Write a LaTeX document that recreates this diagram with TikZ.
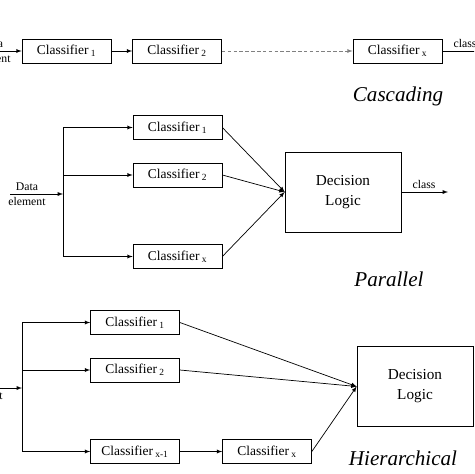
\documentclass[tikz,border=0pt]{standalone}
\usepackage{fontspec}
\setmainfont{Liberation Serif}
\usepackage{tikz}

\begin{document}
\begin{tikzpicture}[x=0.03cm, y=-0.03cm,
    clf/.style={draw, line width=0.6pt, minimum width=2.67cm, minimum height=0.72cm, inner sep=1pt, font=\fontsize{11.5}{13}\selectfont},
    dlogic/.style={draw, line width=0.6pt, minimum width=3.48cm, minimum height=2.4cm, align=center, font=\fontsize{13}{17}\selectfont},
    lbl/.style={inner sep=0pt, align=center, font=\fontsize{10}{13}\selectfont},
    kind/.style={inner sep=0pt, font=\fontsize{18}{20}\selectfont\itshape},
    arr/.style={-latex, line width=0.6pt},
    ln/.style={line width=0.6pt}]
    \useasboundingbox (0,0) rectangle (474,474);
    \clip (0,0) rectangle (474,474);
    % cascading
    \coordinate (cin) at (-30,51);
    \node at (-8,51) [lbl] (cdata) {Data\\[0pt]element};
    \node at (66.5,51) [clf] (c1) {Classifier\,\textsubscript{1}};
    \node at (177,51) [clf] (c2) {Classifier\,\textsubscript{2}};
    \node at (397.5,51) [clf] (cx) {Classifier\,\textsubscript{x}};
    \coordinate (cout) at (490,51);
    \node at (465,43) [lbl] (cclass) {class};
    \draw[arr] (cin) -- (c1);
    \draw[arr] (c1) -- (c2);
    \draw[arr, gray, dash pattern=on 3pt off 2pt] (c2) -- (cx);
    \draw[ln] (cx) -- (cout);
    \node at (398,96) [kind] (tcasc) {Cascading};
    % parallel
    \coordinate (pin) at (10,194);
    \coordinate (pj) at (63,194);
    \node at (27,194.5) [lbl] (pdata) {Data\\[0pt]element};
    \coordinate (pt1) at (63,127.5);
    \coordinate (pt2) at (63,175);
    \coordinate (ptx) at (63,256.5);
    \node at (177.5,127.5) [clf] (p1) {Classifier\,\textsubscript{1}};
    \node at (177.5,175) [clf] (p2) {Classifier\,\textsubscript{2}};
    \node at (177.5,256.5) [clf] (px) {Classifier\,\textsubscript{x}};
    \node at (343,192) [dlogic] (pd) {Decision\\Logic};
    \coordinate (pout) at (448,192);
    \node at (424,184) [lbl] (pclass) {class};
    \draw[arr] (pin) -- (pj);
    \draw[ln] (pt1) -- (ptx);
    \draw[arr] (pt1) -- (p1);
    \draw[arr] (pt2) -- (p2);
    \draw[arr] (ptx) -- (px);
    \draw[arr] (p1.east) -- (pd.west);
    \draw[arr] (p2.east) -- (pd.west);
    \draw[arr] (px.east) -- (pd.west);
    \draw[arr] (pd.east) -- (pout);
    \node at (389,279) [kind] (tpar) {Parallel};
    % hierarchical
    \coordinate (hin) at (-30,388);
    \coordinate (hj) at (22,388);
    \node at (-16,388.5) [lbl] (hdata) {Data\\[0pt]element};
    \coordinate (ht1) at (22,322.5);
    \coordinate (ht2) at (22,370);
    \coordinate (htx) at (22,451.5);
    \node at (135,322.5) [clf] (h1) {Classifier\,\textsubscript{1}};
    \node at (135,370) [clf] (h2) {Classifier\,\textsubscript{2}};
    \node at (135,451.5) [clf] (hx1) {Classifier\,\textsubscript{x-1}};
    \node at (267,451.5) [clf] (hx) {Classifier\,\textsubscript{x}};
    \node at (415,386.5) [dlogic] (hd) {Decision\\Logic};
    \draw[arr] (hin) -- (hj);
    \draw[ln] (ht1) -- (htx);
    \draw[arr] (ht1) -- (h1);
    \draw[arr] (ht2) -- (h2);
    \draw[arr] (htx) -- (hx1);
    \draw[arr] (hx1) -- (hx);
    \draw[arr] (h1.east) -- (hd.west);
    \draw[arr] (h2.east) -- (hd.west);
    \draw[arr] (hx.east) -- (hd.west);
    \node at (403,458) [kind] (thier) {Hierarchical};
\end{tikzpicture}
\end{document}
